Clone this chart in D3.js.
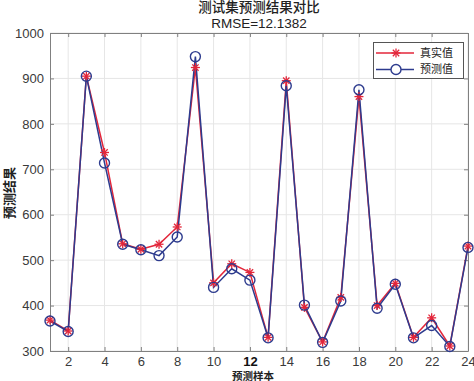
<!DOCTYPE html>
<html><head><meta charset="utf-8">
<script src="https://cdn.jsdelivr.net/npm/d3@7"></script>
<style>
body{margin:0;background:#fff;}
svg{display:block;font-family:"Liberation Sans",Arial,"Noto Sans CJK SC",sans-serif;}
.cjk{font-family:"Noto Sans CJK SC",sans-serif;}
</style></head><body>
<script>
const samples = d3.range(1, 25);
const trueValues = [368,344,905,737,536,524,535,573,924,450,492,473,330,895,396,320,418,860,400,449,330,373,311,531];
const predValues = [366,343,905,714,535,523,510,551,948,440,481,456,329,884,401,319,410,875,394,447,329,356,310,528];
const xTicks = [2,4,6,8,10,12,14,16,18,20,22,24];
const yTicks = [300,400,500,600,700,800,900,1000];
const seriesNames = ["真实值","预测值"];
const titleText = "测试集预测结果对比";
const subtitleText = "RMSE=12.1382";
const xLabel = "预测样本";
const yLabel = "预测结果";

const W = 474, H = 381;
const m = {left:50, right:6, top:33, bottom:30};
const svg = d3.select("body").append("svg").attr("width",W).attr("height",H);
const x = d3.scaleLinear().domain([1,24]).range([m.left, W-m.right]);
const y = d3.scaleLinear().domain([300,1000]).range([H-m.bottom, m.top]);
const axisCol = "#808080";
const red = "#e3263a", blue = "#2d3b8e";

// grid
const g = svg.append("g");
g.selectAll(".gx").data(xTicks).join("line")
  .attr("x1",d=>x(d)).attr("x2",d=>x(d)).attr("y1",y(300)).attr("y2",y(1000))
  .attr("stroke","#e6e6e6").attr("stroke-width",1);
g.selectAll(".gy").data(yTicks).join("line")
  .attr("x1",x(1)).attr("x2",x(24)).attr("y1",d=>y(d)).attr("y2",d=>y(d))
  .attr("stroke","#e6e6e6").attr("stroke-width",1);

// axes
const xAxis = svg.append("g").attr("transform",`translate(0,${y(300)})`)
  .call(d3.axisBottom(x).tickValues(xTicks).tickSizeInner(-4).tickSizeOuter(0).tickPadding(6).tickFormat(d3.format("d")));
const xTop = svg.append("g").attr("transform",`translate(0,${y(1000)})`)
  .call(d3.axisTop(x).tickValues(xTicks).tickSizeInner(-4).tickSizeOuter(0).tickFormat(""));
const yAxis = svg.append("g").attr("transform",`translate(${x(1)},0)`)
  .call(d3.axisLeft(y).tickValues(yTicks).tickSizeInner(-4).tickSizeOuter(0).tickPadding(6).tickFormat(d3.format("d")));
const yRight = svg.append("g").attr("transform",`translate(${x(24)},0)`)
  .call(d3.axisRight(y).tickValues(yTicks).tickSizeInner(-4).tickSizeOuter(0).tickFormat(""));
[xAxis,xTop,yAxis,yRight].forEach(a=>{
  a.select(".domain").attr("stroke",axisCol);
  a.selectAll(".tick line").attr("stroke",axisCol);
  a.selectAll("text").attr("fill","#3a3a3a").style("font-size","13px").style("font-family","Liberation Sans, Arial, sans-serif");
});
xAxis.selectAll("text").filter(d=>d===12).style("font-weight","bold").attr("fill","#111");

// lines
const line = vals => d3.line().x((d,i)=>x(samples[i])).y(d=>y(d))(vals);
svg.append("path").attr("d",line(trueValues)).attr("fill","none").attr("stroke",red).attr("stroke-width",1.5);
svg.append("path").attr("d",line(predValues)).attr("fill","none").attr("stroke",blue).attr("stroke-width",1.5);

function star(sel, cx, cy, r){
  const gg = sel.append("g").attr("transform",`translate(${cx},${cy})`);
  [0,45,90,135].forEach(a=>{
    const rad=a*Math.PI/180;
    gg.append("line").attr("x1",-r*Math.cos(rad)).attr("y1",-r*Math.sin(rad))
      .attr("x2",r*Math.cos(rad)).attr("y2",r*Math.sin(rad))
      .attr("stroke",red).attr("stroke-width",1.3);
  });
}
trueValues.forEach((v,i)=>star(svg, x(samples[i]), y(v), 4.5));
svg.selectAll(".pc").data(predValues).join("circle")
  .attr("cx",(d,i)=>x(samples[i])).attr("cy",d=>y(d)).attr("r",5)
  .attr("fill","none").attr("stroke",blue).attr("stroke-width",1.4);

// legend
const lg = svg.append("g");
lg.append("rect").attr("x",373.5).attr("y",42.5).attr("width",90).attr("height",36)
  .attr("fill","#fff").attr("stroke","#555").attr("stroke-width",1);
[0,1].forEach(k=>{
  const ly = 53 + k*16.5;
  const col = k===0?red:blue;
  lg.append("line").attr("x1",376).attr("x2",414).attr("y1",ly).attr("y2",ly).attr("stroke",col).attr("stroke-width",1.5);
  if(k===0) star(lg,396,ly,4.5);
  else lg.append("circle").attr("cx",396).attr("cy",ly).attr("r",5).attr("fill","#fff").attr("stroke",blue).attr("stroke-width",1.4);
  lg.append("text").attr("class","cjk").attr("x",420).attr("y",ly).attr("dy","0.36em")
    .style("font-size","11px").attr("fill","#222").text(seriesNames[k]);
});

// titles
svg.append("text").attr("class","cjk").attr("x",259).attr("y",7.5).attr("dy","0.36em")
  .attr("text-anchor","middle").style("font-size","13.5px").style("font-weight","500").attr("fill","#222").text(titleText);
svg.append("text").attr("x",259).attr("y",23.5).attr("dy","0.36em")
  .attr("text-anchor","middle").style("font-size","13.5px").attr("fill","#222").text(subtitleText);
svg.append("text").attr("class","cjk").attr("x",253).attr("y",376.5).attr("dy","0.36em")
  .attr("text-anchor","middle").style("font-size","10.5px").style("font-weight","bold").attr("fill","#222").text(xLabel);
svg.append("text").attr("class","cjk").attr("transform","translate(9,193) rotate(-90)").attr("dy","0.36em")
  .attr("text-anchor","middle").style("font-size","13px").style("font-weight","bold").attr("fill","#222").text(yLabel);
</script>
</body></html>
